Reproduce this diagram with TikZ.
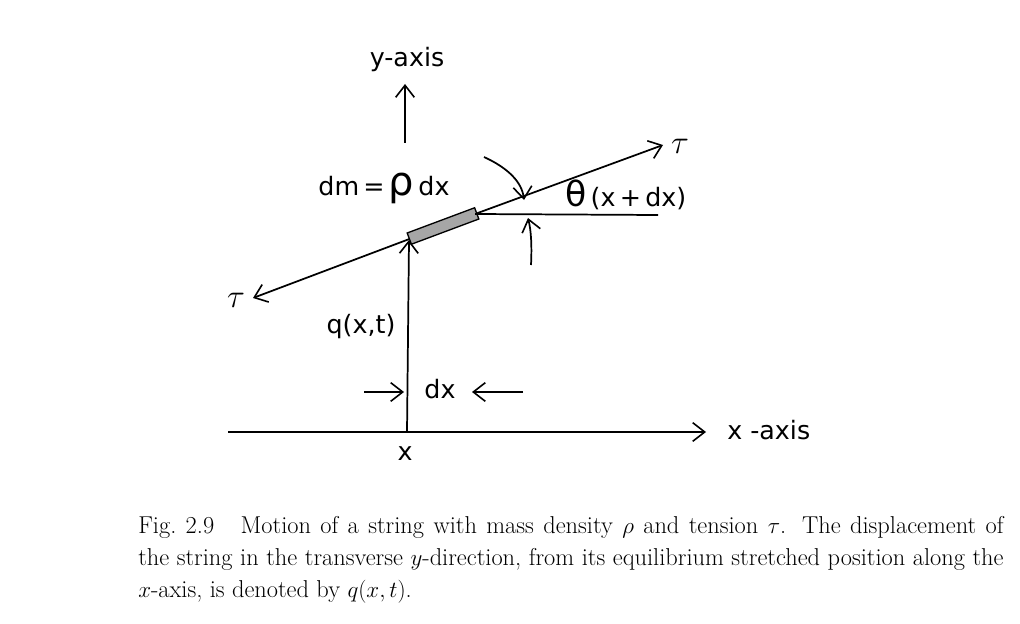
\documentclass[tikz,border=0pt]{standalone}
\usepackage{fontspec}
\newfontfamily\lab{DejaVu Sans}
\usetikzlibrary{arrows.meta}
\begin{document}
\begin{tikzpicture}[x=0.75pt,y=-0.75pt,
  ln/.style={line width=1.3pt},
  arr/.style={ln,-{Straight Barb[length=9pt,width=14pt,line width=1.2pt]}},
  lbl/.style={font=\lab\fontsize{19}{22}\selectfont,inner sep=0pt}]
\useasboundingbox (0,0) rectangle (1020,624);
% x-axis
\coordinate (xa0) at (228,432); \coordinate (xa1) at (706,432);
\draw[arr] (xa0) -- (xa1);
\node[lbl,anchor=west] (xl) at (727,430) {x -axis};
\node[lbl] (xx) at (405,454) {x};
% y-axis
\coordinate (ya0) at (405,143); \coordinate (ya1) at (405,84);
\draw[arr] (ya0) -- (ya1);
\node[lbl] (yl) at (407,60) {y-axis};
% string
\coordinate (s0) at (412,238); \coordinate (s1) at (475,214);
\coordinate (tl) at (253,298); \coordinate (tr) at (663,145);
\draw[arr] (s0) -- (tl);
\draw[arr] (s1) -- (tr);
\node[lbl,font=\fontsize{27}{27}\selectfont] (taul) at (236,300) {$\tau$};
\node[lbl,font=\fontsize{27}{27}\selectfont] (taur) at (680,146) {$\tau$};
\draw[line width=1pt,fill=gray!70,rotate around={20.5:(443,226)}] (407,220) rectangle (479,232);
% horizontal
\coordinate (h1) at (658,215);
\draw[ln] (s1) -- (h1);
% q line
\coordinate (q0) at (407,432); \coordinate (q1) at (409,240);
\draw[arr] (q0) -- (q1);
\node[lbl] (q) at (361,327) {q(x,t)};
% dx arrows
\coordinate (d0) at (364,392); \coordinate (d1) at (404,392);
\draw[arr] (d0) -- (d1);
\coordinate (d2) at (523,392); \coordinate (d3) at (472,392);
\draw[arr] (d2) -- (d3);
\node[lbl] (dx) at (440,389) {dx};
% labels
\node[lbl] (dm) at (384,188) {dm\,=\,{\fontsize{30}{30}\selectfont ρ}\,dx};
\node[lbl,anchor=west] (th) at (565,195) {{\fontsize{26}{26}\selectfont θ}\,(x\,+\,dx)};
% angle arrows
\coordinate (c0) at (484,157); \coordinate (c1) at (524,200);
\draw[arr] (c0) .. controls (508,168) and (522,182) .. (c1);
\coordinate (c2) at (531,265); \coordinate (c3) at (528,218);
\draw[arr] (c2) .. controls (532,245) and (531,230) .. (c3);
% caption
\node[anchor=north west,inner sep=0pt,text width=649pt,align=justify,font=\fontsize{18.3}{24}\selectfont] (cap) at (138,516)
{Fig.\ 2.9\hspace{0.7em} Motion of a string with mass density $\rho$ and tension $\tau$. The displacement of the string in the transverse $y$-direction, from its equilibrium stretched position along the $x$-axis, is denoted by $q(x,t)$.};
\end{tikzpicture}
\end{document}
